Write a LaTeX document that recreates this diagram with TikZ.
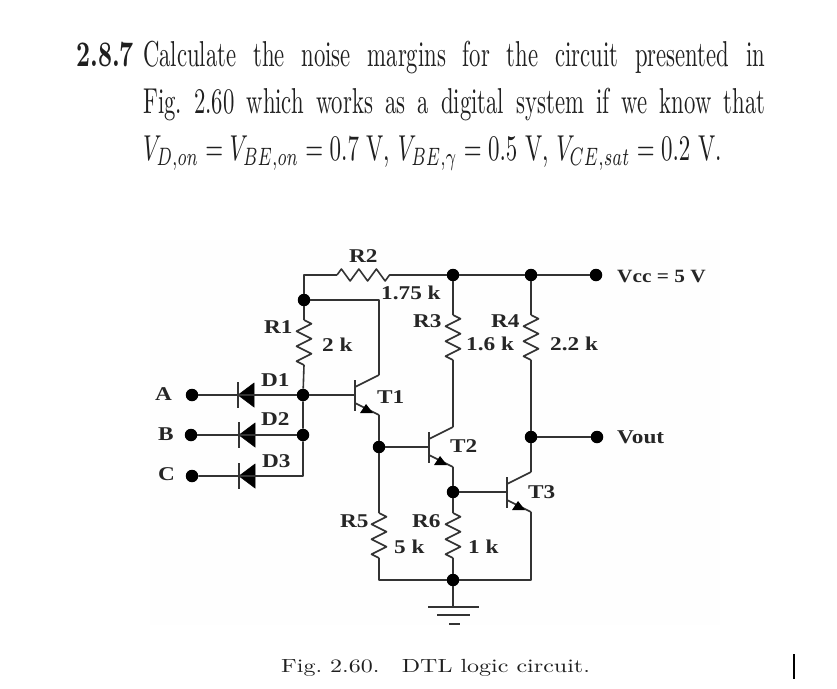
\documentclass[tikz,border=0pt]{standalone}
\usepackage{fontspec}
\newfontfamily\cfont{Liberation Serif}
\usetikzlibrary{decorations.pathmorphing,arrows.meta}
\definecolor{ink}{gray}{0.2}
\tikzset{
 x=1pt,y=-1pt,
 wire/.style={draw=ink,line width=1.6pt,line join=round},
 dot/.style={circle,fill=black,inner sep=0pt,minimum size=12.5pt},
 resv/.style={wire,decorate,decoration={zigzag,segment length=15pt,amplitude=7.5pt}},
 resh/.style={wire,decorate,decoration={zigzag,segment length=17.5pt,amplitude=6pt}},
 lab/.style={inner sep=0pt,anchor=base west,text=black!85},
 para/.style={inner sep=0pt,anchor=base west,text=black!88},
 diode/.style={fill=black,draw=black,line width=.5pt},
 bar/.style={draw=ink,line width=1.7pt}
}
\newcommand{\diodeat}[3]{%
 \coordinate (#1t) at (#2,#3);
 \draw[bar] (#2,#3-13) -- (#2,#3+13);
 \fill[diode] (#2,#3) -- (#2+16,#3-12) -- (#2+16,#3+12) -- cycle;}
\newcommand{\bjt}[3]{%
 \draw[bar] (#2,#3-15) -- (#2,#3+16);
 \coordinate (#1b) at (#2,#3);
 \coordinate (#1cs) at (#2,#3-8);
 \coordinate (#1es) at (#2,#3+8);
 \coordinate (#1c) at (#2+24,#3-20);
 \coordinate (#1e) at (#2+24,#3+20);
 \draw[wire] (#1cs) -- (#1c);
 \draw[wire] (#1es) -- (#1e);
 \fill[black] (#2+5,#3+18) -- (#2+18,#3+18) -- (#2+11,#3+9) -- cycle;}
\newcommand{\stext}[3]{\scalebox{#1}[#2]{#3}}
\newcommand{\lb}[1]{\scalebox{1.55}[1.3]{\cfont\bfseries\fontsize{15}{15}\selectfont #1}}
\newcommand{\lbw}[1]{\scalebox{1.42}[1.25]{\cfont\bfseries\fontsize{15}{15}\selectfont #1}}
\begin{document}
\frenchspacing
\begin{tikzpicture}
\useasboundingbox (0,0) rectangle (837,688);
\fill[black!0.5] (150,240) rectangle (720,625);
% question text
\node[para] (qn) at (76,66.5) {\stext{2.44}{3.6}{\bfseries 2.8.7}};
\node[para] (l1) at (143,66.5) {\stext{2.27}{3.6}{\makebox[274pt][s]{Calculate the noise margins for the circuit presented in}}};
\node[para] (l2) at (143,113.5) {\stext{2.27}{3.6}{\makebox[274pt][s]{Fig. 2.60 which works as a digital system if we know that}}};
\node[para] (l3) at (143,160.5) {\stext{2.295}{3.6}{$V_{D,on}=V_{BE,on}=0.7$ V, $V_{BE,\gamma}=0.5$ V, $V_{CE,sat}=0.2$ V.}};
% junctions
\node[dot] (n1) at (304,300) {};
\node[dot] (nA) at (303,395) {};
\node[dot] (nB) at (303,435) {};
\node[dot] (ta) at (192,395) {};
\node[dot] (tb) at (191,435) {};
\node[dot] (tc) at (192,476) {};
\node[dot] (vc1) at (453,275) {};
\node[dot] (vc2) at (531,275) {};
\node[dot] (vcc) at (596,275) {};
\node[dot] (vo) at (531,437) {};
\node[dot] (vout) at (597,437) {};
\node[dot] (e1) at (379,447) {};
\node[dot] (e2) at (453,492) {};
\node[dot] (gnd) at (453,580) {};
\coordinate (r2a) at (337,275);
\coordinate (r2b) at (390,275);
\coordinate (r1a) at (304,320);
\coordinate (r1b) at (304,365);
\coordinate (r3a) at (453,315);
\coordinate (r3b) at (453,360);
\coordinate (r4a) at (531,315);
\coordinate (r4b) at (531,360);
\coordinate (r5a) at (379,513);
\coordinate (r5b) at (379,558);
\coordinate (r6a) at (453,513);
\coordinate (r6b) at (453,558);
\coordinate (cn) at (303,476);
\coordinate (ct) at (379,300);
\coordinate (g0) at (453,607);
\coordinate (bl) at (379,580);
\coordinate (br) at (531,580);
% resistors
\path[resh] (r2a) -- (r2b);
\path[resv] (r1a) -- (r1b);
\path[resv] (r3a) -- (r3b);
\path[resv] (r4a) -- (r4b);
\path[resv] (r5a) -- (r5b);
\path[resv] (r6a) -- (r6b);
% transistors
\bjt{T1}{355}{395}
\bjt{T2}{429}{447}
\bjt{T3}{507}{492}
% diodes
\diodeat{d1}{238}{395}
\diodeat{d2}{239}{435}
\diodeat{d3}{239}{476}
% wires
\draw[wire] (n1) |- (r2a);
\draw[wire] (r2b) -- (vc1) -- (vc2) -- (vcc);
\draw[wire] (n1) -- (r1a);
\draw[wire] (r1b) -- (nA) -- (nB) -- (cn) -- (tc);
\draw[wire] (ta) -- (nA) -- (T1b);
\draw[wire] (tb) -- (nB);
\draw[wire] (n1) -- (ct) -- (T1c);
\draw[wire] (T1e) -- (e1) -- (r5a);
\draw[wire] (e1) -- (T2b);
\draw[wire] (vc1) -- (r3a);
\draw[wire] (r3b) -- (T2c);
\draw[wire] (T2e) -- (e2) -- (r6a);
\draw[wire] (e2) -- (T3b);
\draw[wire] (vc2) -- (r4a);
\draw[wire] (r4b) -- (vo) -- (T3c);
\draw[wire] (vo) -- (vout);
\draw[wire] (T3e) -- (br) -- (gnd);
\draw[wire] (r5b) -- (bl) -- (gnd);
\draw[wire] (r6b) -- (gnd) -- (g0);
% ground
\draw[wire] (428,607) -- (g0) -- (479,607);
\draw[wire] (437,615) -- (470,615);
\draw[wire] (449,624) -- (460,624);
% labels
\node[lab] (lR2) at (349,262) {\lb{R2}};
\node[lab] (l175) at (381,299) {\lb{1.75 k}};
\node[lab] (lR1) at (264,333) {\lb{R1}};
\node[lab] (l2k) at (322,351) {\lb{2 k}};
\node[lab] (lR3) at (413,327) {\lb{R3}};
\node[lab] (lR4) at (491,327) {\lb{R4}};
\node[lab] (l16) at (466,350) {\lb{1.6 k}};
\node[lab] (l22) at (550,350) {\lb{2.2 k}};
\node[lab] (lD1) at (261,386) {\lb{D1}};
\node[lab] (lD2) at (261,425) {\lb{D2}};
\node[lab] (lD3) at (262,467) {\lb{D3}};
\node[lab] (lA) at (155,400) {\lb{A}};
\node[lab] (lB) at (158,440) {\lb{B}};
\node[lab] (lC) at (158,480) {\lb{C}};
\node[lab] (lT1) at (377,403) {\lb{T1}};
\node[lab] (lT2) at (450,452) {\lb{T2}};
\node[lab] (lT3) at (528,498) {\lb{T3}};
\node[lab] (lR5) at (340,527) {\lb{R5}};
\node[lab] (lR6) at (412,527) {\lb{R6}};
\node[lab] (l5k) at (394,553) {\lb{5 k}};
\node[lab] (l1k) at (468,553) {\lb{1 k}};
\node[lab] (lvcc) at (617,282) {\lbw{Vcc = 5 V}};
\node[lab] (lvout) at (617,443) {\lb{Vout}};
% caption
\node[para] (cap) at (281,672) {\stext{2.4}{1.9}{Fig. 2.60.\hspace{9.3pt}DTL logic circuit.}};
% text cursor
\fill[black] (793.2,654) rectangle (794.8,679);
\fill[black] (792.6,676.5) rectangle (794.8,679);
\end{tikzpicture}
\end{document}
